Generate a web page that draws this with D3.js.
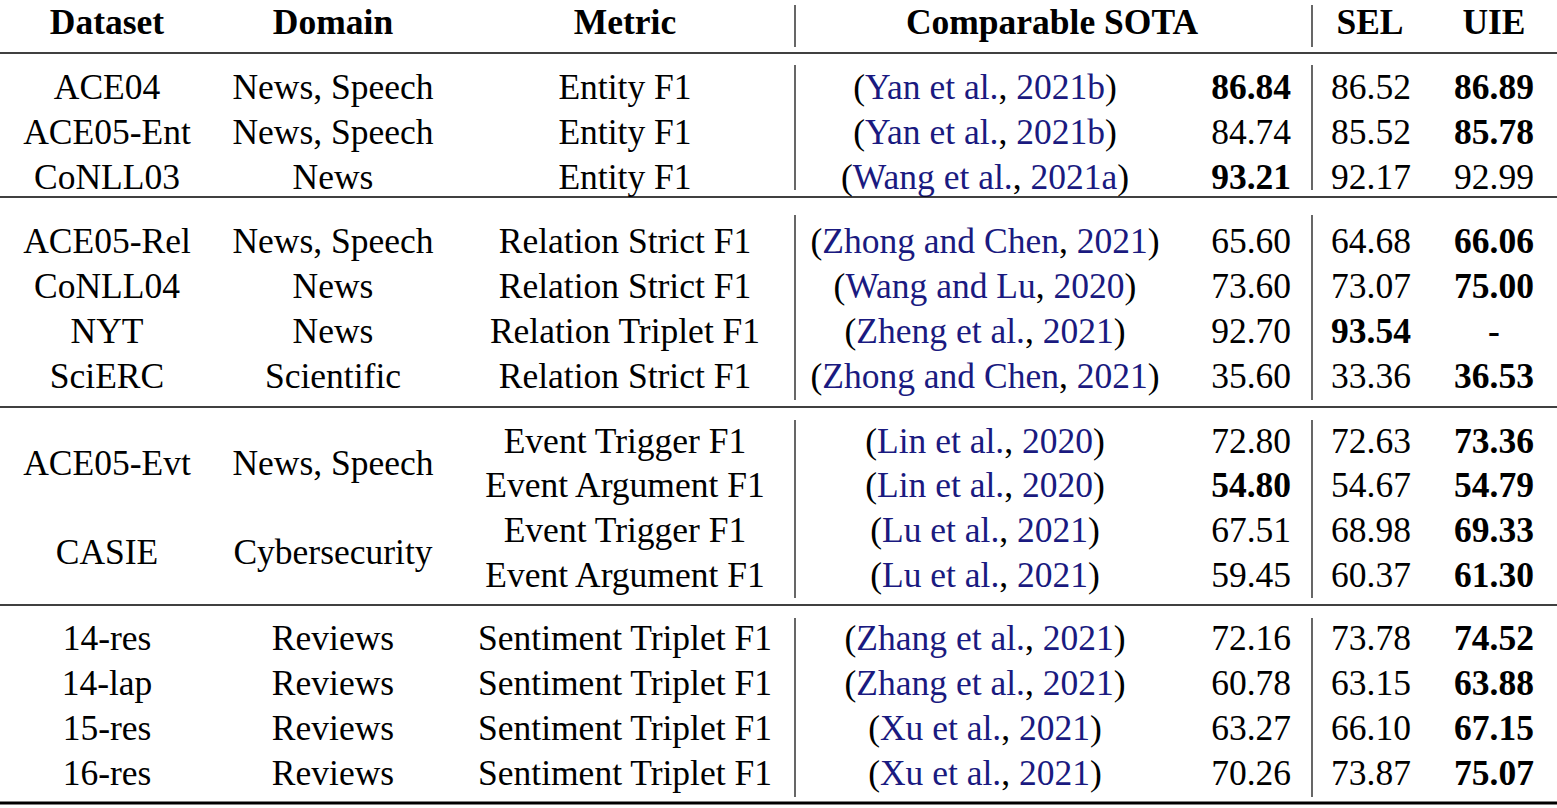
<!DOCTYPE html>
<html><head><meta charset="utf-8">
<script src="https://cdn.jsdelivr.net/npm/d3@7"></script>
<style>body{margin:0;background:#fff}</style></head>
<body><svg id="c" width="1557" height="808"></svg>
<script>
const headers = ["Dataset","Domain","Metric","Comparable SOTA","SEL","UIE"];
const datasets = ["ACE04","ACE05-Ent","CoNLL03","ACE05-Rel","CoNLL04","NYT","SciERC","ACE05-Evt","","CASIE","","14-res","14-lap","15-res","16-res"];
const domains = ["News, Speech","News, Speech","News","News, Speech","News","News","Scientific","News, Speech","","Cybersecurity","","Reviews","Reviews","Reviews","Reviews"];
const metrics = ["Entity F1","Entity F1","Entity F1","Relation Strict F1","Relation Strict F1","Relation Triplet F1","Relation Strict F1","Event Trigger F1","Event Argument F1","Event Trigger F1","Event Argument F1","Sentiment Triplet F1","Sentiment Triplet F1","Sentiment Triplet F1","Sentiment Triplet F1"];
const citeNames = ["Yan et al.","Yan et al.","Wang et al.","Zhong and Chen","Wang and Lu","Zheng et al.","Zhong and Chen","Lin et al.","Lin et al.","Lu et al.","Lu et al.","Zhang et al.","Zhang et al.","Xu et al.","Xu et al."];
const citeYears = ["2021b","2021b","2021a","2021","2020","2021","2021","2020","2020","2021","2021","2021","2021","2021","2021"];
const sota = ["86.84","84.74","93.21","65.60","73.60","92.70","35.60","72.80","54.80","67.51","59.45","72.16","60.78","63.27","70.26"];
const sel = ["86.52","85.52","92.17","64.68","73.07","93.54","33.36","72.63","54.67","68.98","60.37","73.78","63.15","66.10","73.87"];
const uie = ["86.89","85.78","92.99","66.06","75.00","-","36.53","73.36","54.79","69.33","61.30","74.52","63.88","67.15","75.07"];
const sotaBold = [1,0,1,0,0,0,0,0,1,0,0,0,0,0,0];
const selBold  = [0,0,0,0,0,1,0,0,0,0,0,0,0,0,0];
const uieBold  = [1,1,0,1,1,1,1,1,1,1,1,1,1,1,1];
const rowY = [87,132,177,241,286,331,376,441,485,530,575,638,683,728,773];

const svg = d3.select("#c");
const F = "'Liberation Serif','Times New Roman',serif";
const fs = 35.5;
const blue = "#1a1a80";
const t = (x,y,s,anchor,bold) => svg.append("text").attr("x",x).attr("y",y).attr("dy","0.33em")
  .attr("text-anchor",anchor).attr("font-family",F).attr("font-size",fs)
  .attr("font-weight",bold?"bold":"normal").attr("fill","#000").text(s);

const hx = [107,333,625,1052,1370,1494];
headers.forEach((h,i)=>t(hx[i],22,h,"middle",true));

rowY.forEach((y,i)=>{
  const yy = (i===7||i===9) ? (rowY[i]+rowY[i+1])/2 : y;
  if(datasets[i]) t(107,yy,datasets[i],"middle",false);
  if(domains[i]) t(333,yy,domains[i],"middle",false);
  t(625,y,metrics[i],"middle",false);
  const c = t(985,y,"","middle",false);
  c.append("tspan").text("(");
  c.append("tspan").attr("fill",blue).text(citeNames[i]);
  c.append("tspan").text(", ");
  c.append("tspan").attr("fill",blue).text(citeYears[i]);
  c.append("tspan").text(")");
  t(1291,y,sota[i],"end",sotaBold[i]);
  t(1371,y,sel[i],"middle",selBold[i]);
  t(1494,y,uie[i],"middle",uieBold[i]);
});

const hl = [[53,1.6],[197,1.4],[407,1.4],[605,1.4],[803,3]];
hl.forEach(([y,w])=>svg.append("line").attr("x1",0).attr("x2",1557).attr("y1",y).attr("y2",y).attr("stroke","#000").attr("stroke-width",w));
const vs = [[5,47],[65,190],[215,400],[420,598],[618,797]];
[795,1312].forEach(x=>vs.forEach(([a,b])=>svg.append("line").attr("x1",x).attr("x2",x).attr("y1",a).attr("y2",b).attr("stroke","#000").attr("stroke-width",1.2)));
</script></body></html>
